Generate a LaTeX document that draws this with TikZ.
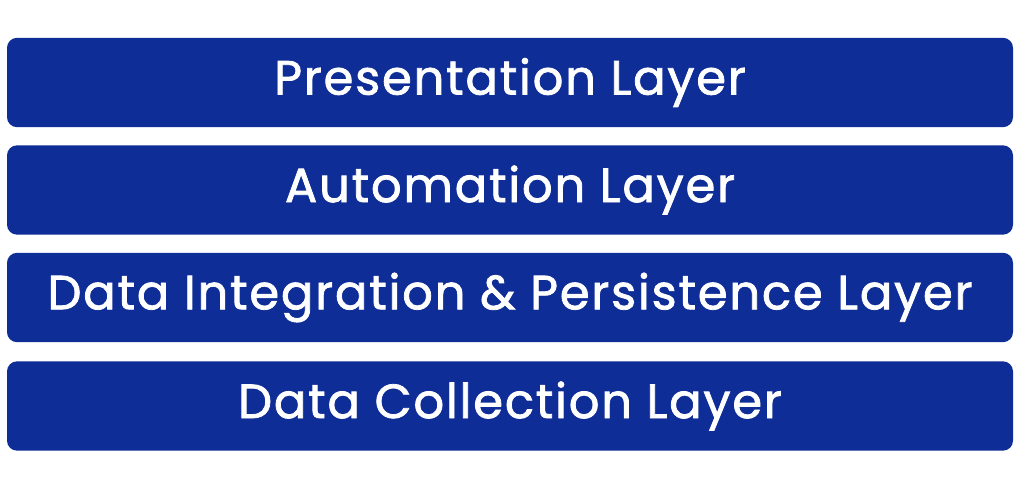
\documentclass[tikz,border=0pt]{standalone}
\usepackage{fontspec}
\setmainfont{Poppins}[FakeBold=1.6, LetterSpace=3.8]
\usepackage{xcolor}
\definecolor{layerblue}{HTML}{0E2D96}

\begin{document}
\begin{tikzpicture}[x=0.75pt,y=-0.75pt,
  layer/.style={fill=layerblue, text=white, rounded corners=7.5pt,
    minimum width=754.5pt, minimum height=67pt, inner sep=0pt,
    font=\fontsize{36}{40}\selectfont}]
\useasboundingbox (0,0) rectangle (1024,490);
\node [layer] (present) at (510,82.5) {Presentation Layer};
\node [layer] (auto) at (510,190) {Automation Layer};
\node [layer] (persist) at (510,297.5) {Data Integration \& Persistence Layer};
\node [layer] (collect) at (510,406) {Data Collection Layer};
\end{tikzpicture}
\end{document}
